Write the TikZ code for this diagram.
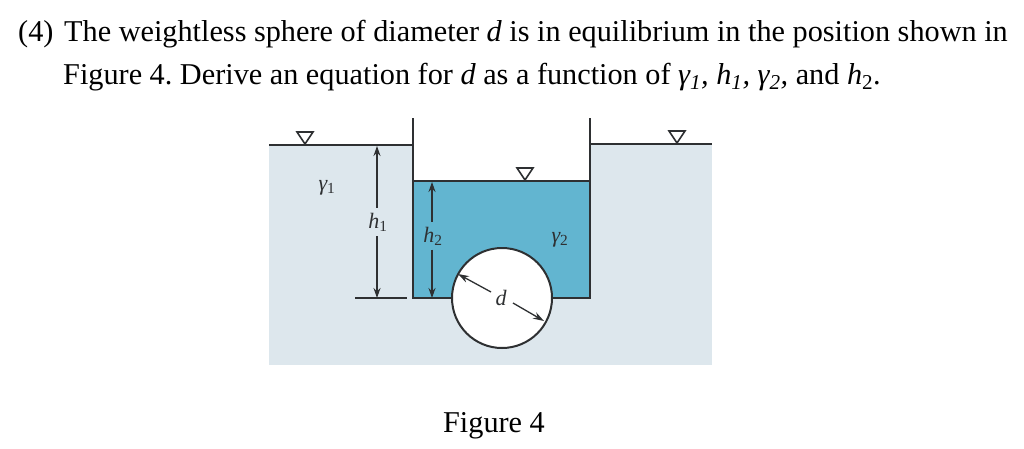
\documentclass[tikz,border=0pt]{standalone}
\usepackage{fontspec}
\setmainfont{Liberation Serif}
\usetikzlibrary{arrows.meta}
\definecolor{lightw}{HTML}{DDE7ED}
\definecolor{bluew}{HTML}{62B5D0}
\definecolor{ink}{HTML}{2E3032}
\tikzset{
  x=1pt,y=-1pt,
  txt/.style={anchor=base west,inner sep=0pt,font=\frenchspacing\fontsize{30.25}{32}\selectfont,text=black},
  lab/.style={inner sep=0pt,font=\fontsize{22}{23}\selectfont\itshape,text=ink},
  wall/.style={draw=ink,line width=2pt},
  dimline/.style={draw=ink,line width=1.2pt},
  tri/.style={draw=ink,line width=1.6pt,fill=white,line join=miter},
  darrow/.style={draw=ink,line width=1.3pt,-{Stealth[length=11pt,width=7pt]}}
}
\begin{document}
\begin{tikzpicture}
\useasboundingbox (0,0) rectangle (1024,448);
\node[txt] (l0) at (18,41) {(4)};
\node[txt] (l1) at (64,41) {The weightless sphere of diameter \textit{d} is in equilibrium in the position shown in};
\node[txt] (l2) at (63,84) {Figure 4. Derive an equation for \textit{d} as a function of \textit{γ\textsubscript{1}, h\textsubscript{1}, γ\textsubscript{2},} and \textit{h}\textsubscript{2}.};
\node[txt,anchor=base] (cap) at (494,432) {Figure 4};
% water
\fill[lightw] (269,145) rectangle (413,365);
\fill[lightw] (590,145) rectangle (712,365);
\fill[lightw] (413,298) rectangle (590,365);
\fill[bluew] (413,181) rectangle (590,298);
% sphere
\node[circle,draw=ink,fill=white,line width=2pt,minimum size=100pt,inner sep=0pt] (sph) at (502,298) {};
% walls and surfaces
\coordinate (wl) at (413,118); \coordinate (wlb) at (413,298);
\coordinate (wr) at (590,118); \coordinate (wrb) at (590,298);
\draw[wall] (wl) -- (wlb) -- (sph.west);
\draw[wall] (wr) -- (wrb) -- (sph.east);
\coordinate (sl0) at (269,145); \coordinate (sl1) at (413,145);
\coordinate (sr0) at (590,144); \coordinate (sr1) at (712,144);
\coordinate (sm0) at (413,181); \coordinate (sm1) at (590,181);
\draw[wall] (sl0) -- (sl1);
\draw[wall] (sr0) -- (sr1);
\draw[wall] (sm0) -- (sm1);
\coordinate (e0) at (355,298); \coordinate (e1) at (407,298);
\draw[draw=ink,line width=1.2pt] (e0) -- (e1);
% triangles
\draw[tri] (297,132) -- (313,132) -- (305,144) -- cycle;
\draw[tri] (517,168) -- (533,168) -- (525,180) -- cycle;
\draw[tri] (669,131) -- (685,131) -- (677,143) -- cycle;
% dimensions
\node[lab,minimum height=28pt] (h1) at (378,222) {h\textsubscript{\upshape 1}};
\node[lab,minimum height=27pt] (h2) at (433,236) {h\textsubscript{\upshape 2}};
\coordinate (h1t) at (377,146); \coordinate (h1b) at (377,298);
\coordinate (h2t) at (432,182); \coordinate (h2b) at (432,298);
\draw[dimline,{Stealth[length=10pt,width=7pt]}-] (h1t) -- (h1.north -| h1t);
\draw[dimline,-{Stealth[length=10pt,width=7pt]}] (h1.south -| h1b) -- (h1b);
\draw[dimline,{Stealth[length=10pt,width=7pt]}-] (h2t) -- (h2.north -| h2t);
\draw[dimline,-{Stealth[length=10pt,width=7pt]}] (h2.south -| h2b) -- (h2b);
\node[lab] (g1) at (327,188) {γ\textsubscript{\upshape 1}};
\node[lab] (g2) at (560,240) {γ\textsubscript{\upshape 2}};
\node[lab] (dl) at (501,298) {d};
\coordinate (a1) at (458,274); \coordinate (a2) at (544,321);
\draw[darrow] (491,292) -- (a1);
\draw[darrow] (513,303) -- (a2);
\end{tikzpicture}
\end{document}
